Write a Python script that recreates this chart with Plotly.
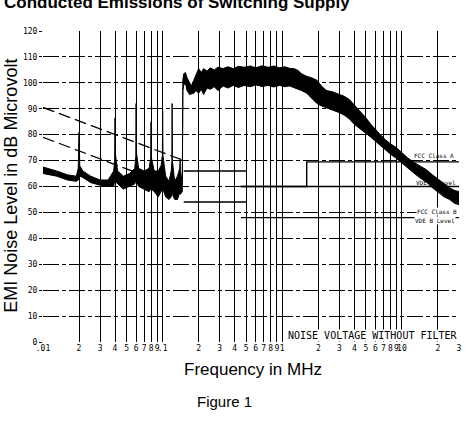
import plotly.graph_objects as go

# ---- data ----
# low frequency part (harmonics of 20 kHz), band envelope in dB uV
lf_freq = [0.0100, 0.0130, 0.0160, 0.0190, 0.0197, 0.0200, 0.0203, 0.0215, 0.0250, 0.0300,
           0.0350, 0.0390, 0.0397, 0.0400, 0.0404, 0.0420, 0.0470, 0.0530, 0.0585, 0.0597,
           0.0600, 0.0604, 0.0630, 0.0700, 0.0770, 0.0795, 0.0800, 0.0806, 0.0850, 0.0920,
           0.0970, 0.0995, 0.1000, 0.1006, 0.1060, 0.1130, 0.1180, 0.1195, 0.1200, 0.1207,
           0.1260, 0.1330, 0.1390, 0.1400, 0.1408, 0.1440, 0.1460]
lf_upper = [67.5, 66.0, 64.5, 64.0, 67.0, 81.0, 68.0, 66.0, 64.0, 62.5,
            62.5, 66.0, 70.0, 86.5, 72.0, 66.0, 64.0, 65.0, 67.0, 72.0,
            92.0, 73.0, 67.0, 66.0, 67.0, 71.0, 85.0, 71.0, 66.0, 66.0,
            68.0, 72.0, 89.5, 72.0, 64.0, 62.0, 66.0, 70.0, 92.0, 70.0,
            62.0, 64.0, 67.0, 70.0, 66.0, 64.0, 62.0]
lf_lower = [65.0, 64.0, 62.5, 62.0, 62.5, 63.0, 64.0, 63.5, 61.5, 60.5,
            60.0, 60.0, 62.0, 63.0, 62.0, 61.0, 59.0, 60.0, 61.0, 62.0,
            63.0, 62.0, 60.0, 59.0, 58.0, 59.0, 60.0, 59.0, 58.0, 56.0,
            58.0, 59.0, 60.0, 59.0, 56.0, 55.0, 56.0, 57.0, 58.0, 57.0,
            55.0, 55.0, 57.0, 58.0, 57.0, 58.0, 58.0]

# high frequency part, band envelope
hf_freq = [0.1475, 0.150, 0.155, 0.160, 0.168, 0.175, 0.182, 0.190, 0.200, 0.210,
           0.220, 0.235, 0.250, 0.270, 0.290, 0.320, 0.350, 0.390, 0.430, 0.480,
           0.540, 0.600, 0.680, 0.760, 0.850, 0.950, 1.05, 1.15, 1.25, 1.35,
           1.45, 1.60, 1.75, 1.95, 2.15, 2.35, 2.65, 3.00, 3.30, 3.65,
           4.00, 4.50, 5.00, 5.50, 6.00, 6.60, 7.30, 8.00, 9.00, 10.0,
           11.2, 12.5, 14.0, 16.0, 18.0, 20.0, 22.5, 25.0, 27.5, 30.0]
hf_upper = [101.0, 103.5, 104.0, 102.0, 100.0, 99.0, 101.0, 103.0, 105.5, 104.0,
            105.5, 104.5, 105.8, 105.0, 106.0, 105.5, 106.2, 105.5, 106.4, 106.0,
            106.5, 105.8, 106.6, 106.0, 106.5, 105.8, 106.2, 105.6, 105.5, 104.8,
            103.5, 102.5, 102.0, 101.0, 98.5, 97.0, 96.5, 95.5, 94.8, 93.5,
            91.5, 89.0, 86.5, 84.0, 82.0, 80.0, 78.0, 76.5, 75.0, 73.0,
            71.0, 69.4, 68.0, 66.5, 64.5, 63.0, 61.0, 59.5, 58.5, 58.0]
hf_lower = [97.0, 99.0, 100.0, 97.0, 95.5, 95.8, 96.0, 97.0, 96.0, 97.5,
            95.5, 98.0, 97.5, 98.5, 97.0, 98.8, 98.0, 99.0, 98.2, 99.0,
            98.5, 99.2, 98.6, 99.0, 98.4, 99.0, 98.5, 98.8, 98.2, 97.5,
            97.0, 96.0, 94.0, 92.0, 91.0, 90.4, 89.5, 88.5, 87.5, 86.0,
            84.0, 82.0, 80.5, 79.0, 77.5, 75.8, 74.0, 72.5, 70.8, 69.0,
            66.8, 65.3, 63.5, 61.7, 59.5, 58.0, 56.0, 55.0, 53.5, 53.0]

# sloped dashed limits below 150 kHz
dash_freq = [0.01, 0.15]
dash_upper = [90.5, 70.0]
dash_lower = [79.0, 58.5]

# solid limit lines
vde_b_short_freq = [0.15, 0.5]
vde_b_short_hi = [66, 66]
vde_b_short_lo = [54, 54]
fcc_a_freq = [0.45, 1.6, 1.6, 30]
fcc_a_lvl = [60, 60, 69.5, 69.5]
vde_a_freq = [0.45, 30]
vde_a_lvl = [60, 60]
fcc_b_freq = [0.45, 30]
fcc_b_lvl = [48, 48]

x_tickvals = [0.01, 0.02, 0.03, 0.04, 0.05, 0.06, 0.07, 0.08, 0.09,
              0.1, 0.2, 0.3, 0.4, 0.5, 0.6, 0.7, 0.8, 0.9,
              1, 2, 3, 4, 5, 6, 7, 8, 9, 10, 20, 30]
x_ticktext = [".01", "2", "3", "4", "5", "6", "7", "8", "9",
              ".1", "2", "3", "4", "5", "6", "7", "8", "9",
              "1", "2", "3", "4", "5", "6", "7", "8", "9", "10", "2", "3"]
y_tickvals = [0, 10, 20, 30, 40, 50, 60, 70, 80, 90, 100, 110, 120]

mono = "DejaVu Sans Mono"
sans = "Liberation Sans, Arial"

fig = go.Figure()

# noise band: lower edge then upper edge filled down to it
band_f = lf_freq + hf_freq
fig.add_trace(go.Scatter(x=band_f, y=lf_lower + hf_lower, mode="lines",
                         line=dict(color="black", width=1), showlegend=False))
fig.add_trace(go.Scatter(x=band_f, y=lf_upper + hf_upper, mode="lines",
                         line=dict(color="black", width=1), fill="tonexty",
                         fillcolor="black", showlegend=False))

for yy in (dash_upper, dash_lower):
    fig.add_trace(go.Scatter(x=dash_freq, y=yy, mode="lines",
                             line=dict(color="black", width=1.3, dash="12px,5px"),
                             showlegend=False))

solid = dict(color="black", width=1.4)
for xx, yy in [(vde_b_short_freq, vde_b_short_hi), (vde_b_short_freq, vde_b_short_lo),
               (fcc_a_freq, fcc_a_lvl), (vde_a_freq, vde_a_lvl), (fcc_b_freq, fcc_b_lvl)]:
    fig.add_trace(go.Scatter(x=xx, y=yy, mode="lines", line=solid, showlegend=False))

small = dict(family=mono, size=6, color="black")
fig.add_annotation(x=1.45, y=71.8, xref="x", yref="y", text="FCC Class A",
                   showarrow=False, xanchor="right", yanchor="middle", font=small)
fig.add_annotation(x=1.47, y=61.6, xref="x", yref="y", text="VDE A Level",
                   showarrow=False, xanchor="right", yanchor="middle", font=small)
fig.add_annotation(x=1.468, y=50.2, xref="x", yref="y", text="FCC Class B",
                   showarrow=False, xanchor="right", yanchor="middle", font=small,
                   bgcolor="white", borderpad=0)
fig.add_annotation(x=1.455, y=46.9, xref="x", yref="y", text="VDE B Level",
                   showarrow=False, xanchor="right", yanchor="middle", font=small,
                   bgcolor="white", borderpad=0)
fig.add_annotation(x=0.586, y=0.02, xref="paper", yref="paper",
                   text="NOISE VOLTAGE WITHOUT FILTER", showarrow=False,
                   xanchor="left", yanchor="middle", bgcolor="white", borderpad=0,
                   font=dict(family=mono, size=10, color="black"))

# page texts (the scan cuts the title at the top)
fig.add_annotation(x=-0.099, y=1.054, xref="paper", yref="paper",
                   text="<b>Conducted Emissions of Switching Supply</b>", showarrow=False,
                   xanchor="left", yanchor="bottom",
                   font=dict(family=sans, size=17, color="black"))
fig.add_annotation(x=-0.079, y=0.503, xref="paper", yref="paper",
                   text="EMI Noise Level in dB Microvolt", showarrow=False, textangle=-90,
                   xanchor="center", yanchor="middle",
                   font=dict(family=sans, size=18, color="black"))
fig.add_annotation(x=0.505, y=-0.088, xref="paper", yref="paper",
                   text="Frequency in MHz", showarrow=False,
                   xanchor="center", yanchor="middle",
                   font=dict(family=sans, size=17, color="black"))
fig.add_annotation(x=0.437, y=-0.19, xref="paper", yref="paper",
                   text="Figure 1", showarrow=False,
                   xanchor="center", yanchor="middle",
                   font=dict(family=sans, size=15, color="black"))

fig.update_xaxes(type="log", range=[-2, 1.4771], tickmode="array",
                 tickvals=x_tickvals, ticktext=x_ticktext, tickangle=0,
                 showgrid=True, gridcolor="black", gridwidth=1.3,
                 ticks="", showline=False, zeroline=False,
                 tickfont=dict(family=mono, size=8, color="black"))
fig.update_yaxes(range=[0, 120], tickmode="array", tickvals=y_tickvals,
                 showgrid=True, gridcolor="black", gridwidth=1.1,
                 griddash="16px,3px,4px,3px",
                 ticks="outside", ticklen=3, tickcolor="black",
                 showline=False, zeroline=False,
                 tickfont=dict(family=mono, size=8, color="black"))

fig.update_layout(
    width=474, height=437,
    margin=dict(l=43, r=15, t=31, b=95),
    plot_bgcolor="white", paper_bgcolor="white",
    showlegend=False,
)

# drop the default page margin so the figure sits at the window corner
fig.write_html("out.html", config={"displayModeBar": False},
               post_script="document.body.style.margin='0';")
